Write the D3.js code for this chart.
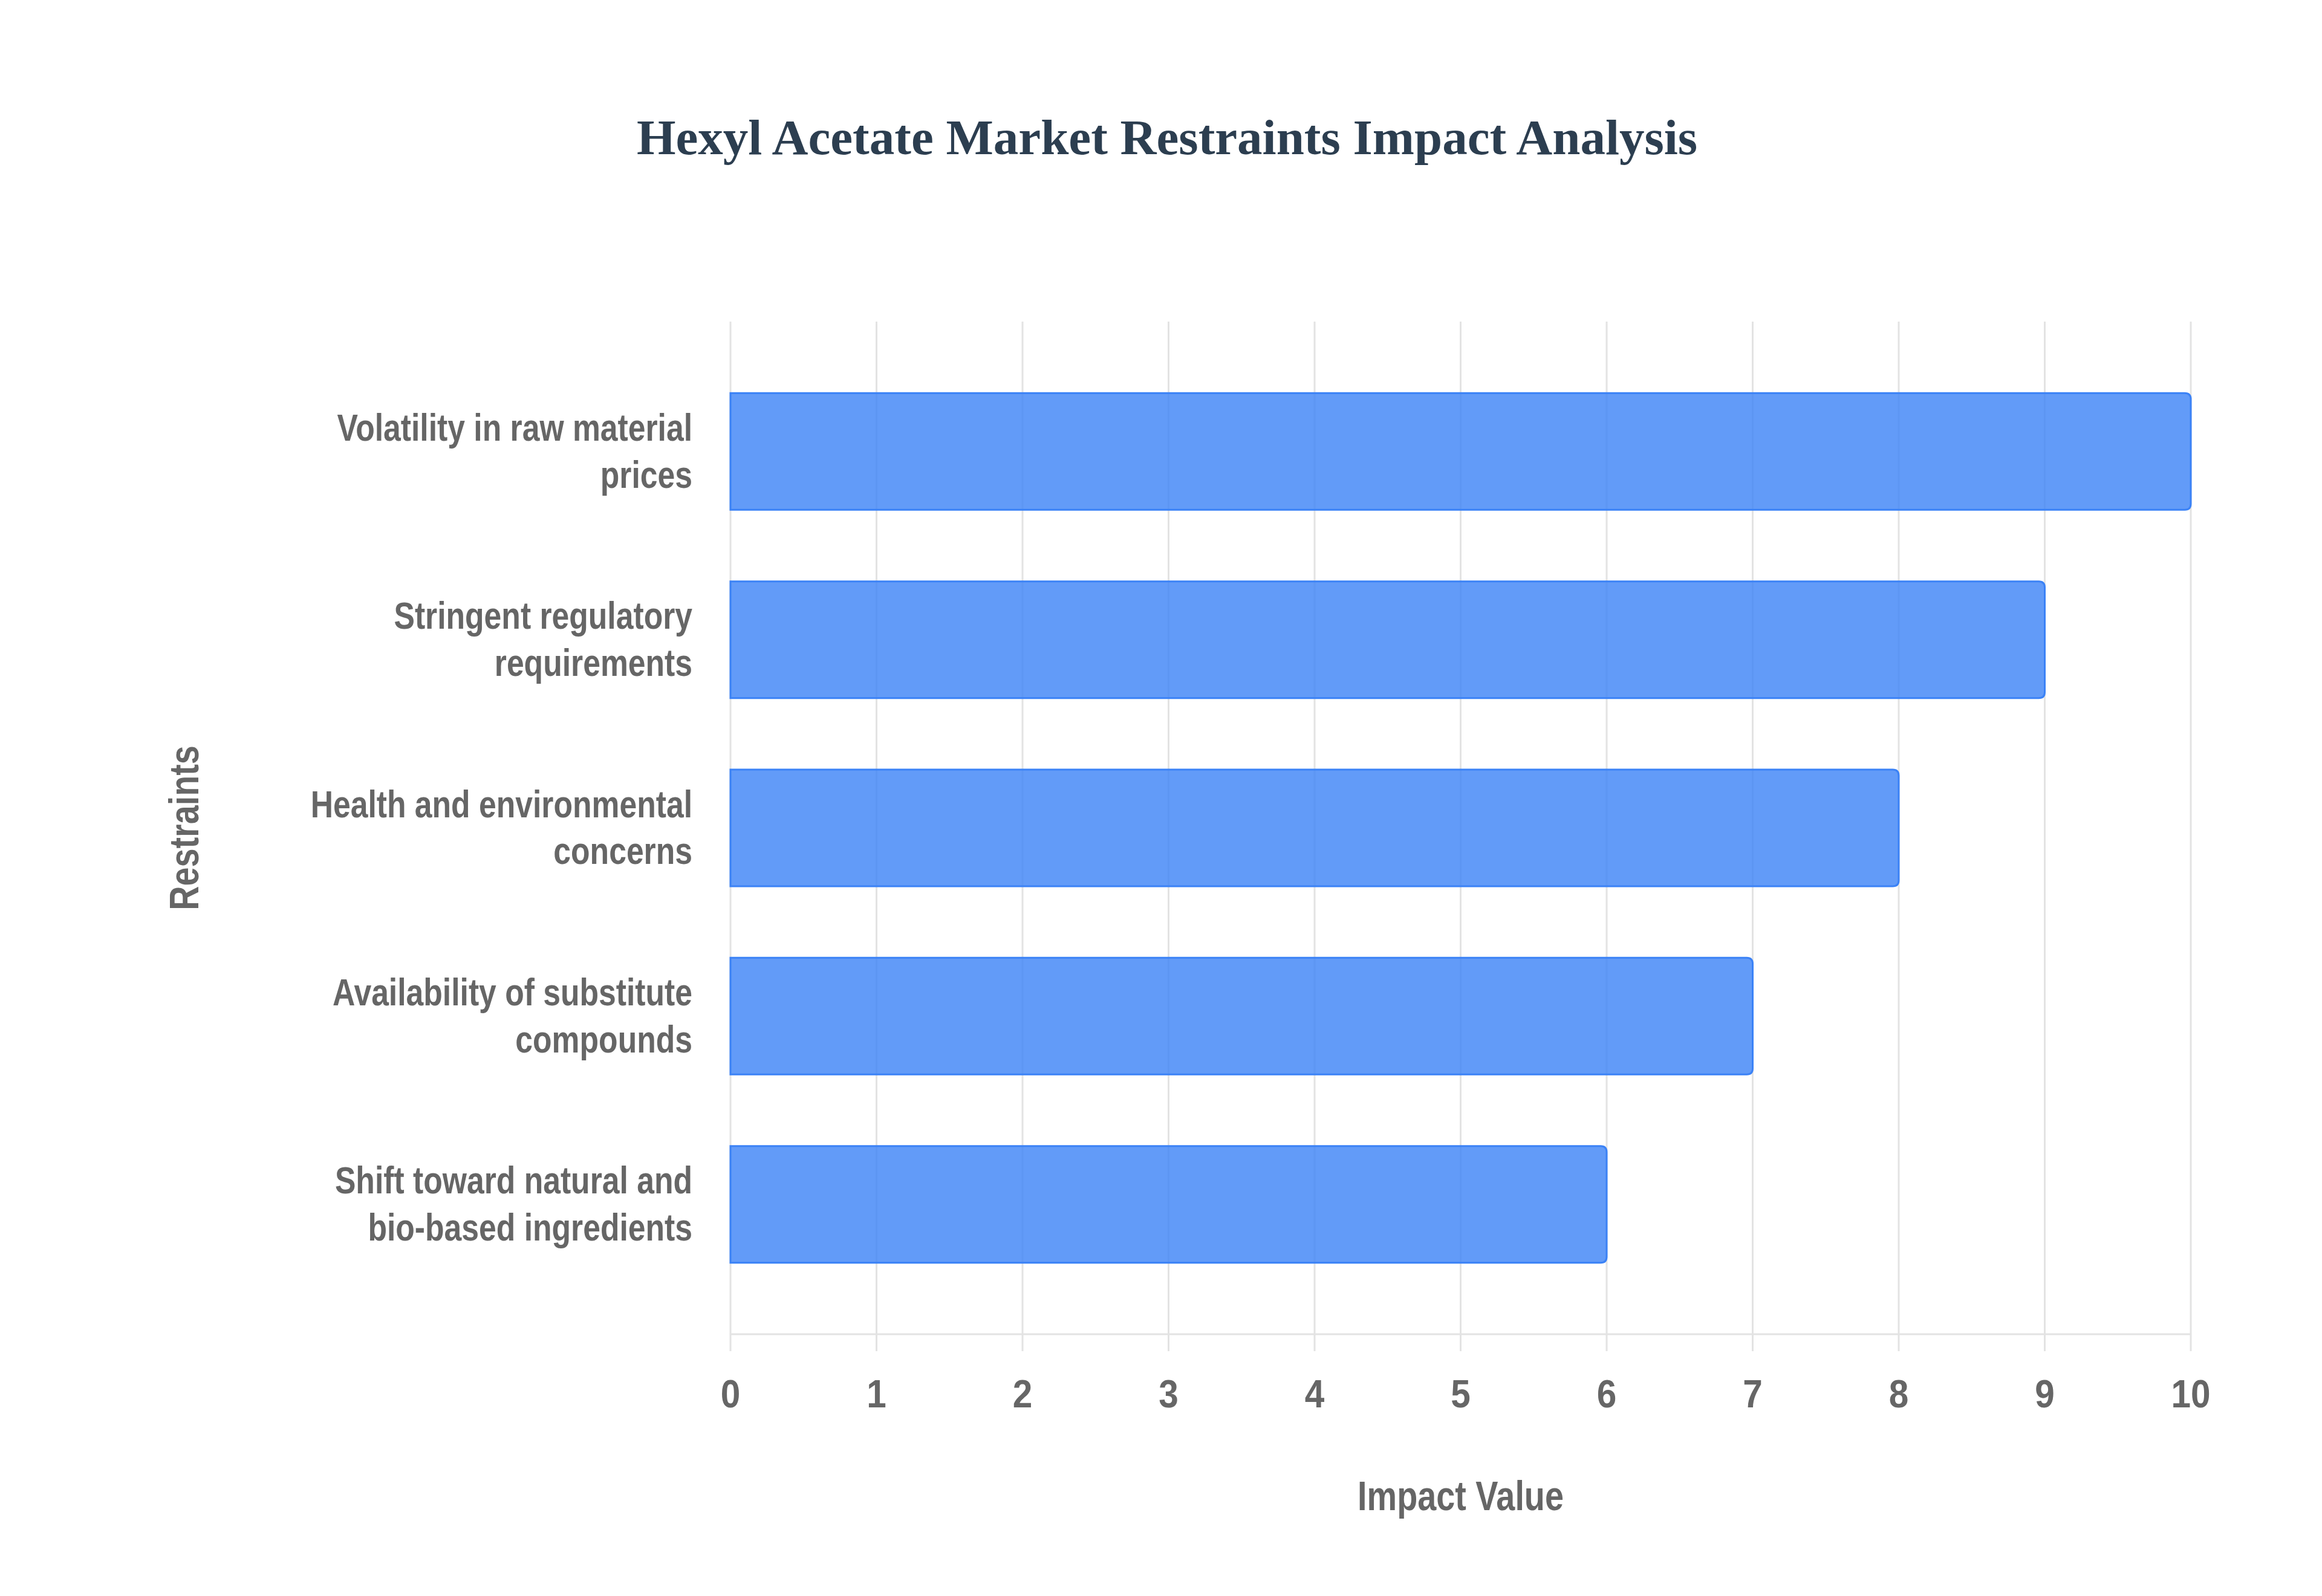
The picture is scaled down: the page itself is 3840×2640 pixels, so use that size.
<!DOCTYPE html>
<html lang="en">
<head>
<meta charset="utf-8">
<title>Hexyl Acetate Market Restraints Impact Analysis</title>
<script src="https://d3js.org/d3.v7.min.js"></script>
<style>
  html, body { margin: 0; padding: 0; background: #fff; }
  .lbl { font-family: "Liberation Sans", Arial, sans-serif; font-weight: bold; fill: #666; }
</style>
</head>
<body>
<script>
// data
var restraints = [
  ["Volatility in raw material", "prices"],
  ["Stringent regulatory", "requirements"],
  ["Health and environmental", "concerns"],
  ["Availability of substitute", "compounds"],
  ["Shift toward natural and", "bio-based ingredients"]
];
var impact = [10, 9, 8, 7, 6];
var xTicks = [0, 1, 2, 3, 4, 5, 6, 7, 8, 9, 10];

var W = 3840, H = 2640;
var plotL = 1208, plotR = 3623, plotT = 532, plotB = 2207;
var squeeze = 0.82; // text in the original is narrow

var svg = d3.select("body").append("svg")
  .attr("width", W).attr("height", H);

var x = d3.scaleLinear().domain([0, 10]).range([plotL, plotR]);
var y = d3.scaleBand().domain(d3.range(restraints.length)).range([plotT, plotB]).padding(0.38);

// title
svg.append("text")
  .attr("x", 1930).attr("y", 255)
  .attr("text-anchor", "middle")
  .style("font-family", "'Liberation Serif', 'Times New Roman', serif")
  .style("font-weight", "bold").style("font-size", "83px")
  .style("fill", "#2c3e50")
  .text("Hexyl Acetate Market Restraints Impact Analysis");

// grid lines + ticks
svg.append("g").selectAll("line").data(xTicks).enter().append("line")
  .attr("x1", d => x(d)).attr("x2", d => x(d))
  .attr("y1", plotT).attr("y2", plotB + 28)
  .attr("stroke", "#e3e3e3").attr("stroke-width", 3);
svg.append("line")
  .attr("x1", plotL).attr("x2", plotR).attr("y1", plotB).attr("y2", plotB)
  .attr("stroke", "#e3e3e3").attr("stroke-width", 3);

// tick labels
svg.append("g").selectAll("text").data(xTicks).enter().append("text")
  .attr("class", "lbl").style("font-size", "65px")
  .attr("text-anchor", "middle")
  .attr("transform", d => "translate(" + x(d) + ",2328) scale(0.9,1)")
  .text(d => d);

// bars: square left end, rounded right end
var r = 10;
svg.append("g").selectAll("path").data(impact).enter().append("path")
  .attr("d", function (d, i) {
    var x0 = x(0), x1 = x(d), y0 = y(i), h = y.bandwidth();
    return "M" + x0 + "," + y0 + "H" + (x1 - r) + "Q" + x1 + "," + y0 + " " + x1 + "," + (y0 + r)
      + "V" + (y0 + h - r) + "Q" + x1 + "," + (y0 + h) + " " + (x1 - r) + "," + (y0 + h) + "H" + x0 + "Z";
  })
  .attr("fill", "rgba(59,130,246,0.8)")
  .attr("stroke", "#3b82f6").attr("stroke-width", 3);

// category labels
var cats = svg.append("g").selectAll("g").data(restraints).enter().append("g")
  .attr("transform", (d, i) => "translate(1145," + (y(i) + y.bandwidth() / 2) + ") scale(" + squeeze + ",1)");
cats.each(function (lines) {
  var g = d3.select(this);
  lines.forEach(function (t, k) {
    g.append("text").attr("class", "lbl").style("font-size", "63px")
      .attr("text-anchor", "end")
      .attr("y", -18 + k * 78)
      .text(t);
  });
});

// axis titles
svg.append("text").attr("class", "lbl").style("font-size", "68px")
  .attr("text-anchor", "middle")
  .attr("transform", "translate(" + (plotL + plotR) / 2 + ",2498) scale(" + squeeze + ",1)")
  .text("Impact Value");
svg.append("text").attr("class", "lbl").style("font-size", "68px")
  .attr("text-anchor", "middle")
  .attr("transform", "translate(328," + (plotT + plotB) / 2 + ") rotate(-90) scale(" + squeeze + ",1)")
  .text("Restraints");
</script>
</body>
</html>
